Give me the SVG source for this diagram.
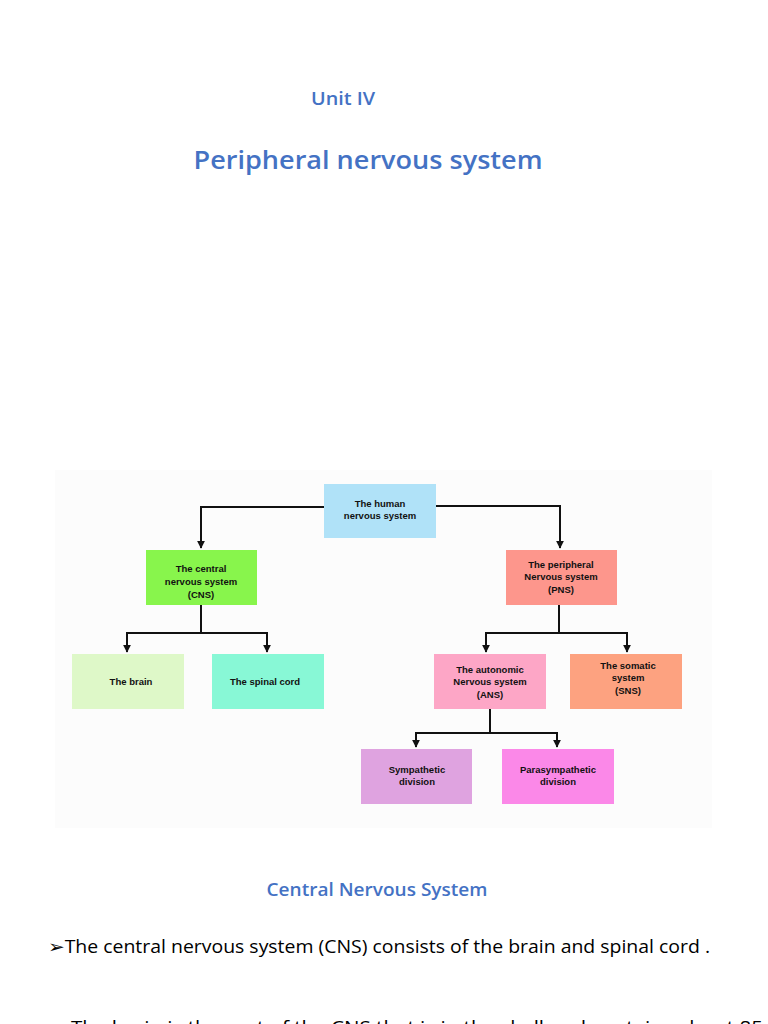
<svg xmlns="http://www.w3.org/2000/svg" width="768" height="1024" viewBox="0 0 768 1024">
<style>
.h{font-family:"Open Sans","Liberation Sans",sans-serif;font-weight:600;fill:#4472c4;text-anchor:middle}
.n{font-family:"Liberation Sans",Arial,sans-serif;font-weight:bold;font-size:9.5px;fill:#111;text-anchor:middle}
.b{font-family:"Open Sans","Liberation Sans",sans-serif;font-size:17.5px;fill:#000}
.c{fill:none;stroke:#111;stroke-width:2}
</style>
<defs><marker id="a" viewBox="0 0 10 10" refX="9" refY="5" markerWidth="4" markerHeight="4" orient="auto"><path d="M0,0L10,5L0,10z" fill="#111"/></marker></defs>
<rect width="768" height="1024" fill="#fff"/>
<text class="h" x="343" y="105" font-size="18" textLength="64" lengthAdjust="spacingAndGlyphs">Unit IV</text>
<text class="h" x="368" y="169" font-size="25" textLength="349" lengthAdjust="spacingAndGlyphs">Peripheral nervous system</text>
<rect x="55" y="470" width="657" height="358" fill="#fcfcfc"/>
<g id="connectors">
<path class="c" marker-end="url(#a)" d="M324,507H201V548"/>
<path class="c" marker-end="url(#a)" d="M436,506H560V548"/>
<path class="c" d="M201,605V633M127,633H267"/>
<path class="c" marker-end="url(#a)" d="M127,632V652"/>
<path class="c" marker-end="url(#a)" d="M267,632V652"/>
<path class="c" d="M559,605V633M486,633H627"/>
<path class="c" marker-end="url(#a)" d="M486,632V652"/>
<path class="c" marker-end="url(#a)" d="M627,632V652"/>
<path class="c" d="M490,709V733M416,733H557"/>
<path class="c" marker-end="url(#a)" d="M416,732V747"/>
<path class="c" marker-end="url(#a)" d="M557,732V747"/>
</g>
<g id="human"><rect x="324" y="484" width="112" height="54" fill="#b0e2f8"/><text class="n" x="380" y="507">The human</text><text class="n" x="380" y="519">nervous system</text></g>
<g id="cns"><rect x="146" y="550" width="111" height="55" fill="#88f54c"/><text class="n" x="201" y="572">The central</text><text class="n" x="201" y="585">nervous system</text><text class="n" x="201" y="598">(CNS)</text></g>
<g id="pns"><rect x="506" y="550" width="111" height="55" fill="#fd968c"/><text class="n" x="561" y="568">The peripheral</text><text class="n" x="561" y="580">Nervous system</text><text class="n" x="561" y="593">(PNS)</text></g>
<g id="brain"><rect x="72" y="654" width="112" height="55" fill="#def8c8"/><text class="n" x="131" y="685">The brain</text></g>
<g id="spinal"><rect x="212" y="654" width="112" height="55" fill="#88f8d6"/><text class="n" x="265" y="685">The spinal cord</text></g>
<g id="ans"><rect x="434" y="654" width="112" height="55" fill="#fda6c6"/><text class="n" x="490" y="673">The autonomic</text><text class="n" x="490" y="685">Nervous system</text><text class="n" x="490" y="698">(ANS)</text></g>
<g id="sns"><rect x="570" y="654" width="112" height="55" fill="#fda280"/><text class="n" x="628" y="669">The somatic</text><text class="n" x="628" y="681">system</text><text class="n" x="628" y="694">(SNS)</text></g>
<g id="symp"><rect x="361" y="749" width="111" height="55" fill="#dfa3e0"/><text class="n" x="417" y="773">Sympathetic</text><text class="n" x="417" y="785">division</text></g>
<g id="para"><rect x="502" y="749" width="112" height="55" fill="#fb88e8"/><text class="n" x="558" y="773">Parasympathetic</text><text class="n" x="558" y="785">division</text></g>
<text class="h" x="377" y="896" font-size="18" textLength="221" lengthAdjust="spacingAndGlyphs">Central Nervous System</text>
<text class="b" x="48" y="953" textLength="662" lengthAdjust="spacingAndGlyphs">➢The central nervous system (CNS) consists of the brain and spinal cord .</text>
<text class="b" x="48" y="1034" textLength="715" lengthAdjust="spacingAndGlyphs">➢ The brain is the part of the CNS that is in the skull and contains about 85</text>
</svg>
